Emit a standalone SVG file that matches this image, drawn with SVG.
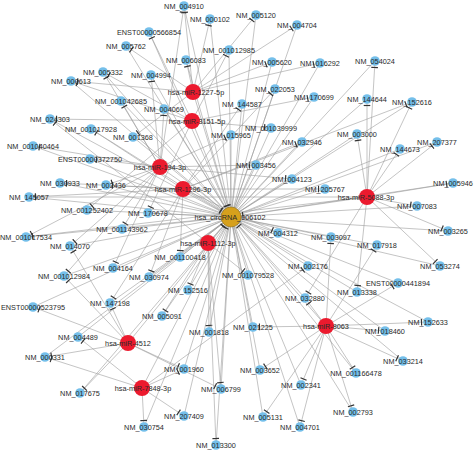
<svg xmlns="http://www.w3.org/2000/svg" width="474" height="450" viewBox="0 0 474 450">
<defs>
<style>
.e{stroke:#9c9c9c;stroke-width:0.6;fill:none}
.t{stroke:#9c9c9c;stroke-width:0.6;fill:none;marker-end:url(#tee)}
.tc{stroke:#9c9c9c;stroke-width:0.6;fill:none;marker-end:url(#tee2)}
.m circle{fill:#74bfea}
.r circle{fill:#ec1a2e}
.g circle{fill:#d6a01c;stroke:#8a6a10;stroke-width:0.6}
text{font-family:"Liberation Sans",Arial,sans-serif;font-size:7.3px;fill:#2a2a2a;text-anchor:middle}
</style>
<marker id="tee" viewBox="0 -4 10 8" refX="7.5" refY="0" markerWidth="10" markerHeight="8" markerUnits="userSpaceOnUse" orient="auto"><path d="M1,-3.3V3.3" stroke="#333" stroke-width="1.2"/></marker>
<marker id="tee2" viewBox="0 -4 15 8" refX="13" refY="0" markerWidth="15" markerHeight="8" markerUnits="userSpaceOnUse" orient="auto"><path d="M1,-3.3V3.3" stroke="#333" stroke-width="1.2"/></marker>
</defs>
<rect width="474" height="450" fill="#fff"/>
<g id="connectors">
<g id="circ-edges">
<line class="e" x1="231" y1="217" x2="184" y2="6"/>
<line class="e" x1="231" y1="217" x2="210" y2="19"/>
<line class="e" x1="231" y1="217" x2="256" y2="15"/>
<line class="e" x1="231" y1="217" x2="297" y2="25"/>
<line class="e" x1="231" y1="217" x2="149" y2="32"/>
<line class="e" x1="231" y1="217" x2="126" y2="46"/>
<line class="e" x1="231" y1="217" x2="229" y2="50"/>
<line class="e" x1="231" y1="217" x2="186" y2="60"/>
<line class="e" x1="231" y1="217" x2="272" y2="62"/>
<line class="e" x1="231" y1="217" x2="320" y2="63"/>
<line class="e" x1="231" y1="217" x2="375" y2="61"/>
<line class="e" x1="231" y1="217" x2="103" y2="72"/>
<line class="e" x1="231" y1="217" x2="71" y2="81"/>
<line class="e" x1="231" y1="217" x2="151" y2="75"/>
<line class="e" x1="231" y1="217" x2="275" y2="89"/>
<line class="e" x1="231" y1="217" x2="314" y2="97"/>
<line class="e" x1="231" y1="217" x2="367" y2="99"/>
<line class="e" x1="231" y1="217" x2="412" y2="102"/>
<line class="e" x1="231" y1="217" x2="121" y2="101"/>
<line class="e" x1="231" y1="217" x2="242" y2="104"/>
<line class="e" x1="231" y1="217" x2="164" y2="109"/>
<line class="e" x1="231" y1="217" x2="50" y2="119"/>
<line class="e" x1="231" y1="217" x2="91" y2="129"/>
<line class="e" x1="231" y1="217" x2="271" y2="128"/>
<line class="e" x1="231" y1="217" x2="231" y2="135"/>
<line class="e" x1="231" y1="217" x2="133" y2="137"/>
<line class="e" x1="231" y1="217" x2="357" y2="134"/>
<line class="e" x1="231" y1="217" x2="302" y2="142"/>
<line class="e" x1="231" y1="217" x2="437" y2="142"/>
<line class="e" x1="231" y1="217" x2="400" y2="149"/>
<line class="e" x1="231" y1="217" x2="33" y2="146"/>
<line class="e" x1="231" y1="217" x2="90" y2="159"/>
<line class="e" x1="231" y1="217" x2="256" y2="165"/>
<line class="e" x1="231" y1="217" x2="292" y2="179"/>
<line class="e" x1="231" y1="217" x2="60" y2="183"/>
<line class="e" x1="231" y1="217" x2="106" y2="185"/>
<line class="e" x1="231" y1="217" x2="453" y2="183"/>
<line class="e" x1="231" y1="217" x2="325" y2="189"/>
<line class="e" x1="231" y1="217" x2="29" y2="197"/>
<line class="e" x1="231" y1="217" x2="417" y2="206"/>
<line class="e" x1="231" y1="217" x2="87" y2="210"/>
<line class="e" x1="231" y1="217" x2="148" y2="213"/>
<line class="e" x1="231" y1="217" x2="122" y2="229"/>
<line class="e" x1="231" y1="217" x2="278" y2="233"/>
<line class="e" x1="231" y1="217" x2="448" y2="231"/>
<line class="e" x1="231" y1="217" x2="26" y2="237"/>
<line class="e" x1="231" y1="217" x2="331" y2="237"/>
<line class="e" x1="231" y1="217" x2="377" y2="245"/>
<line class="e" x1="231" y1="217" x2="70" y2="246"/>
<line class="e" x1="231" y1="217" x2="180" y2="257"/>
<line class="e" x1="231" y1="217" x2="308" y2="266"/>
<line class="e" x1="231" y1="217" x2="440" y2="266"/>
<line class="e" x1="231" y1="217" x2="113" y2="268"/>
<line class="e" x1="231" y1="217" x2="64" y2="276"/>
<line class="e" x1="231" y1="217" x2="149" y2="277"/>
<line class="e" x1="231" y1="217" x2="248" y2="275"/>
<line class="e" x1="231" y1="217" x2="398" y2="283"/>
<line class="e" x1="231" y1="217" x2="188" y2="290"/>
<line class="e" x1="231" y1="217" x2="357" y2="292"/>
<line class="e" x1="231" y1="217" x2="305" y2="298"/>
<line class="e" x1="231" y1="217" x2="110" y2="303"/>
<line class="e" x1="231" y1="217" x2="33" y2="307"/>
<line class="e" x1="231" y1="217" x2="162" y2="316"/>
<line class="e" x1="231" y1="217" x2="428" y2="322"/>
<line class="e" x1="231" y1="217" x2="253" y2="327"/>
<line class="e" x1="231" y1="217" x2="385" y2="331"/>
<line class="e" x1="231" y1="217" x2="209" y2="332"/>
<line class="e" x1="231" y1="217" x2="78" y2="337"/>
<line class="e" x1="231" y1="217" x2="45" y2="357"/>
<line class="e" x1="231" y1="217" x2="403" y2="361"/>
<line class="e" x1="231" y1="217" x2="184" y2="369"/>
<line class="e" x1="231" y1="217" x2="260" y2="370"/>
<line class="e" x1="231" y1="217" x2="356" y2="373"/>
<line class="e" x1="231" y1="217" x2="301" y2="385"/>
<line class="e" x1="231" y1="217" x2="221" y2="389"/>
<line class="e" x1="231" y1="217" x2="80" y2="393"/>
<line class="e" x1="231" y1="217" x2="353" y2="412"/>
<line class="e" x1="231" y1="217" x2="184" y2="416"/>
<line class="e" x1="231" y1="217" x2="263" y2="417"/>
<line class="e" x1="231" y1="217" x2="144" y2="427"/>
<line class="e" x1="231" y1="217" x2="300" y2="427"/>
<line class="e" x1="231" y1="217" x2="216" y2="445"/>
</g>
<g id="mirna-to-circ">
<line class="tc" x1="193" y1="92" x2="231" y2="217"/>
<line class="tc" x1="192" y1="121" x2="231" y2="217"/>
<line class="tc" x1="160" y1="167" x2="231" y2="217"/>
<line class="tc" x1="183" y1="189" x2="231" y2="217"/>
<line class="tc" x1="208" y1="243" x2="231" y2="217"/>
<line class="tc" x1="367" y1="197" x2="231" y2="217"/>
<line class="tc" x1="326" y1="326" x2="231" y2="217"/>
<line class="tc" x1="128" y1="343" x2="231" y2="217"/>
<line class="tc" x1="142" y1="388" x2="231" y2="217"/>
</g>
<g id="mirna-to-mrna">
<line class="t" x1="193" y1="92" x2="184" y2="6"/>
<line class="t" x1="193" y1="92" x2="210" y2="19"/>
<line class="t" x1="193" y1="92" x2="256" y2="15"/>
<line class="t" x1="193" y1="92" x2="297" y2="25"/>
<line class="t" x1="193" y1="92" x2="126" y2="46"/>
<line class="t" x1="193" y1="92" x2="186" y2="60"/>
<line class="t" x1="193" y1="92" x2="272" y2="62"/>
<line class="t" x1="193" y1="92" x2="320" y2="63"/>
<line class="t" x1="193" y1="92" x2="133" y2="137"/>
<line class="t" x1="193" y1="92" x2="71" y2="81"/>
<line class="t" x1="192" y1="121" x2="149" y2="32"/>
<line class="t" x1="192" y1="121" x2="229" y2="50"/>
<line class="t" x1="192" y1="121" x2="71" y2="81"/>
<line class="t" x1="192" y1="121" x2="314" y2="97"/>
<line class="t" x1="192" y1="121" x2="271" y2="128"/>
<line class="t" x1="192" y1="121" x2="87" y2="210"/>
<line class="t" x1="192" y1="121" x2="148" y2="213"/>
<line class="t" x1="192" y1="121" x2="103" y2="72"/>
<line class="t" x1="192" y1="121" x2="50" y2="119"/>
<line class="t" x1="160" y1="167" x2="184" y2="6"/>
<line class="t" x1="160" y1="167" x2="103" y2="72"/>
<line class="t" x1="160" y1="167" x2="151" y2="75"/>
<line class="t" x1="160" y1="167" x2="121" y2="101"/>
<line class="t" x1="160" y1="167" x2="164" y2="109"/>
<line class="t" x1="160" y1="167" x2="231" y2="135"/>
<line class="t" x1="160" y1="167" x2="33" y2="146"/>
<line class="t" x1="160" y1="167" x2="90" y2="159"/>
<line class="t" x1="160" y1="167" x2="256" y2="165"/>
<line class="t" x1="160" y1="167" x2="292" y2="179"/>
<line class="t" x1="160" y1="167" x2="106" y2="185"/>
<line class="t" x1="160" y1="167" x2="122" y2="229"/>
<line class="t" x1="160" y1="167" x2="26" y2="237"/>
<line class="t" x1="160" y1="167" x2="70" y2="246"/>
<line class="t" x1="160" y1="167" x2="113" y2="268"/>
<line class="t" x1="160" y1="167" x2="64" y2="276"/>
<line class="t" x1="183" y1="189" x2="275" y2="89"/>
<line class="t" x1="183" y1="189" x2="242" y2="104"/>
<line class="t" x1="183" y1="189" x2="91" y2="129"/>
<line class="t" x1="183" y1="189" x2="412" y2="102"/>
<line class="t" x1="183" y1="189" x2="302" y2="142"/>
<line class="t" x1="183" y1="189" x2="60" y2="183"/>
<line class="t" x1="183" y1="189" x2="106" y2="185"/>
<line class="t" x1="183" y1="189" x2="325" y2="189"/>
<line class="t" x1="183" y1="189" x2="29" y2="197"/>
<line class="t" x1="183" y1="189" x2="278" y2="233"/>
<line class="t" x1="183" y1="189" x2="180" y2="257"/>
<line class="t" x1="183" y1="189" x2="149" y2="277"/>
<line class="t" x1="183" y1="189" x2="110" y2="303"/>
<line class="t" x1="208" y1="243" x2="50" y2="119"/>
<line class="t" x1="208" y1="243" x2="248" y2="275"/>
<line class="t" x1="208" y1="243" x2="188" y2="290"/>
<line class="t" x1="208" y1="243" x2="162" y2="316"/>
<line class="t" x1="208" y1="243" x2="209" y2="332"/>
<line class="t" x1="208" y1="243" x2="216" y2="445"/>
<line class="t" x1="208" y1="243" x2="221" y2="389"/>
<line class="t" x1="367" y1="197" x2="375" y2="61"/>
<line class="t" x1="367" y1="197" x2="367" y2="99"/>
<line class="t" x1="367" y1="197" x2="412" y2="102"/>
<line class="t" x1="367" y1="197" x2="357" y2="134"/>
<line class="t" x1="367" y1="197" x2="437" y2="142"/>
<line class="t" x1="367" y1="197" x2="400" y2="149"/>
<line class="t" x1="367" y1="197" x2="453" y2="183"/>
<line class="t" x1="367" y1="197" x2="417" y2="206"/>
<line class="t" x1="367" y1="197" x2="448" y2="231"/>
<line class="t" x1="367" y1="197" x2="440" y2="266"/>
<line class="t" x1="367" y1="197" x2="357" y2="292"/>
<line class="t" x1="367" y1="197" x2="305" y2="298"/>
<line class="t" x1="367" y1="197" x2="26" y2="237"/>
<line class="t" x1="367" y1="197" x2="29" y2="197"/>
<line class="t" x1="326" y1="326" x2="331" y2="237"/>
<line class="t" x1="326" y1="326" x2="377" y2="245"/>
<line class="t" x1="326" y1="326" x2="398" y2="283"/>
<line class="t" x1="326" y1="326" x2="428" y2="322"/>
<line class="t" x1="326" y1="326" x2="253" y2="327"/>
<line class="t" x1="326" y1="326" x2="385" y2="331"/>
<line class="t" x1="326" y1="326" x2="403" y2="361"/>
<line class="t" x1="326" y1="326" x2="260" y2="370"/>
<line class="t" x1="326" y1="326" x2="356" y2="373"/>
<line class="t" x1="326" y1="326" x2="301" y2="385"/>
<line class="t" x1="326" y1="326" x2="353" y2="412"/>
<line class="t" x1="326" y1="326" x2="263" y2="417"/>
<line class="t" x1="326" y1="326" x2="300" y2="427"/>
<line class="t" x1="326" y1="326" x2="305" y2="298"/>
<line class="t" x1="128" y1="343" x2="70" y2="246"/>
<line class="t" x1="128" y1="343" x2="64" y2="276"/>
<line class="t" x1="128" y1="343" x2="33" y2="307"/>
<line class="t" x1="128" y1="343" x2="45" y2="357"/>
<line class="t" x1="128" y1="343" x2="184" y2="369"/>
<line class="t" x1="128" y1="343" x2="221" y2="389"/>
<line class="t" x1="128" y1="343" x2="80" y2="393"/>
<line class="t" x1="128" y1="343" x2="110" y2="303"/>
<line class="t" x1="142" y1="388" x2="308" y2="266"/>
<line class="t" x1="142" y1="388" x2="78" y2="337"/>
<line class="t" x1="142" y1="388" x2="45" y2="357"/>
<line class="t" x1="142" y1="388" x2="184" y2="416"/>
<line class="t" x1="142" y1="388" x2="144" y2="427"/>
<line class="t" x1="142" y1="388" x2="184" y2="369"/>
</g>
</g>
<g id="nodes">
<g id="n1" class="m"><circle cx="184" cy="6" r="4.8"/><text x="184" y="8.6">NM_004910</text></g>
<g id="n2" class="m"><circle cx="210" cy="19" r="4.8"/><text x="210" y="21.6">NM_000102</text></g>
<g id="n3" class="m"><circle cx="256" cy="15" r="4.8"/><text x="256" y="17.6">NM_005120</text></g>
<g id="n4" class="m"><circle cx="297" cy="25" r="4.8"/><text x="297" y="27.6">NM_004704</text></g>
<g id="n5" class="m"><circle cx="149" cy="32" r="4.8"/><text x="149" y="34.6">ENST00000566854</text></g>
<g id="n6" class="m"><circle cx="126" cy="46" r="4.8"/><text x="126" y="48.6">NM_005762</text></g>
<g id="n7" class="m"><circle cx="229" cy="50" r="4.8"/><text x="229" y="52.6">NM_001012985</text></g>
<g id="n8" class="m"><circle cx="186" cy="60" r="4.8"/><text x="186" y="62.6">NM_006083</text></g>
<g id="n9" class="m"><circle cx="272" cy="62" r="4.8"/><text x="272" y="64.6">NM_005620</text></g>
<g id="n10" class="m"><circle cx="320" cy="63" r="4.8"/><text x="320" y="65.6">NM_016292</text></g>
<g id="n11" class="m"><circle cx="375" cy="61" r="4.8"/><text x="375" y="63.6">NM_054024</text></g>
<g id="n12" class="m"><circle cx="103" cy="72" r="4.8"/><text x="103" y="74.6">NM_005332</text></g>
<g id="n13" class="m"><circle cx="71" cy="81" r="4.8"/><text x="71" y="83.6">NM_000613</text></g>
<g id="n14" class="m"><circle cx="151" cy="75" r="4.8"/><text x="151" y="77.6">NM_004994</text></g>
<g id="n15" class="m"><circle cx="275" cy="89" r="4.8"/><text x="275" y="91.6">NM_022053</text></g>
<g id="n16" class="m"><circle cx="314" cy="97" r="4.8"/><text x="314" y="99.6">NM_170699</text></g>
<g id="n17" class="m"><circle cx="367" cy="99" r="4.8"/><text x="367" y="101.6">NM_144644</text></g>
<g id="n18" class="m"><circle cx="412" cy="102" r="4.8"/><text x="412" y="104.6">NM_152616</text></g>
<g id="n19" class="m"><circle cx="121" cy="101" r="4.8"/><text x="121" y="103.6">NM_001042685</text></g>
<g id="n20" class="m"><circle cx="242" cy="104" r="4.8"/><text x="242" y="106.6">NM_144587</text></g>
<g id="n21" class="m"><circle cx="164" cy="109" r="4.8"/><text x="164" y="111.6">NM_004069</text></g>
<g id="n22" class="m"><circle cx="50" cy="119" r="4.8"/><text x="50" y="121.6">NM_024303</text></g>
<g id="n23" class="m"><circle cx="91" cy="129" r="4.8"/><text x="91" y="131.6">NM_001017928</text></g>
<g id="n24" class="m"><circle cx="271" cy="128" r="4.8"/><text x="271" y="130.6">NM_001039999</text></g>
<g id="n25" class="m"><circle cx="231" cy="135" r="4.8"/><text x="231" y="137.6">NM_015965</text></g>
<g id="n26" class="m"><circle cx="133" cy="137" r="4.8"/><text x="133" y="139.6">NM_001368</text></g>
<g id="n27" class="m"><circle cx="357" cy="134" r="4.8"/><text x="357" y="136.6">NM_003000</text></g>
<g id="n28" class="m"><circle cx="302" cy="142" r="4.8"/><text x="302" y="144.6">NM_032946</text></g>
<g id="n29" class="m"><circle cx="437" cy="142" r="4.8"/><text x="437" y="144.6">NM_207377</text></g>
<g id="n30" class="m"><circle cx="400" cy="149" r="4.8"/><text x="400" y="151.6">NM_144673</text></g>
<g id="n31" class="m"><circle cx="33" cy="146" r="4.8"/><text x="33" y="148.6">NM_001040464</text></g>
<g id="n32" class="m"><circle cx="90" cy="159" r="4.8"/><text x="90" y="161.6">ENST00000372750</text></g>
<g id="n33" class="m"><circle cx="256" cy="165" r="4.8"/><text x="256" y="167.6">NM_003456</text></g>
<g id="n34" class="m"><circle cx="292" cy="179" r="4.8"/><text x="292" y="181.6">NM_004123</text></g>
<g id="n35" class="m"><circle cx="60" cy="183" r="4.8"/><text x="60" y="185.6">NM_030933</text></g>
<g id="n36" class="m"><circle cx="106" cy="185" r="4.8"/><text x="106" y="187.6">NM_002436</text></g>
<g id="n37" class="m"><circle cx="453" cy="183" r="4.8"/><text x="453" y="185.6">NM_005946</text></g>
<g id="n38" class="m"><circle cx="325" cy="189" r="4.8"/><text x="325" y="191.6">NM_205767</text></g>
<g id="n39" class="m"><circle cx="29" cy="197" r="4.8"/><text x="29" y="199.6">NM_145057</text></g>
<g id="n40" class="m"><circle cx="417" cy="206" r="4.8"/><text x="417" y="208.6">NM_007083</text></g>
<g id="n41" class="m"><circle cx="87" cy="210" r="4.8"/><text x="87" y="212.6">NM_001252402</text></g>
<g id="n42" class="m"><circle cx="148" cy="213" r="4.8"/><text x="148" y="215.6">NM_170678</text></g>
<g id="n43" class="m"><circle cx="122" cy="229" r="4.8"/><text x="122" y="231.6">NM_001143962</text></g>
<g id="n44" class="m"><circle cx="278" cy="233" r="4.8"/><text x="278" y="235.6">NM_004312</text></g>
<g id="n45" class="m"><circle cx="448" cy="231" r="4.8"/><text x="448" y="233.6">NM_003265</text></g>
<g id="n46" class="m"><circle cx="26" cy="237" r="4.8"/><text x="26" y="239.6">NM_001017534</text></g>
<g id="n47" class="m"><circle cx="331" cy="237" r="4.8"/><text x="331" y="239.6">NM_003097</text></g>
<g id="n48" class="m"><circle cx="377" cy="245" r="4.8"/><text x="377" y="247.6">NM_017918</text></g>
<g id="n49" class="m"><circle cx="70" cy="246" r="4.8"/><text x="70" y="248.6">NM_014070</text></g>
<g id="n50" class="m"><circle cx="180" cy="257" r="4.8"/><text x="180" y="259.6">NM_001100418</text></g>
<g id="n51" class="m"><circle cx="308" cy="266" r="4.8"/><text x="308" y="268.6">NM_002176</text></g>
<g id="n52" class="m"><circle cx="440" cy="266" r="4.8"/><text x="440" y="268.6">NM_053274</text></g>
<g id="n53" class="m"><circle cx="113" cy="268" r="4.8"/><text x="113" y="270.6">NM_004164</text></g>
<g id="n54" class="m"><circle cx="64" cy="276" r="4.8"/><text x="64" y="278.6">NM_001012984</text></g>
<g id="n55" class="m"><circle cx="149" cy="277" r="4.8"/><text x="149" y="279.6">NM_030974</text></g>
<g id="n56" class="m"><circle cx="248" cy="275" r="4.8"/><text x="248" y="277.6">NM_001079528</text></g>
<g id="n57" class="m"><circle cx="398" cy="283" r="4.8"/><text x="398" y="285.6">ENST00000441894</text></g>
<g id="n58" class="m"><circle cx="188" cy="290" r="4.8"/><text x="188" y="292.6">NM_152516</text></g>
<g id="n59" class="m"><circle cx="357" cy="292" r="4.8"/><text x="357" y="294.6">NM_013338</text></g>
<g id="n60" class="m"><circle cx="305" cy="298" r="4.8"/><text x="305" y="300.6">NM_032880</text></g>
<g id="n61" class="m"><circle cx="110" cy="303" r="4.8"/><text x="110" y="305.6">NM_147198</text></g>
<g id="n62" class="m"><circle cx="33" cy="307" r="4.8"/><text x="33" y="309.6">ENST00000523795</text></g>
<g id="n63" class="m"><circle cx="162" cy="316" r="4.8"/><text x="162" y="318.6">NM_005091</text></g>
<g id="n64" class="m"><circle cx="428" cy="322" r="4.8"/><text x="428" y="324.6">NM_152633</text></g>
<g id="n65" class="m"><circle cx="253" cy="327" r="4.8"/><text x="253" y="329.6">NM_021225</text></g>
<g id="n66" class="m"><circle cx="385" cy="331" r="4.8"/><text x="385" y="333.6">NM_018460</text></g>
<g id="n67" class="m"><circle cx="209" cy="332" r="4.8"/><text x="209" y="334.6">NM_001818</text></g>
<g id="n68" class="m"><circle cx="78" cy="337" r="4.8"/><text x="78" y="339.6">NM_004489</text></g>
<g id="n69" class="m"><circle cx="45" cy="357" r="4.8"/><text x="45" y="359.6">NM_000331</text></g>
<g id="n70" class="m"><circle cx="403" cy="361" r="4.8"/><text x="403" y="363.6">NM_033214</text></g>
<g id="n71" class="m"><circle cx="184" cy="369" r="4.8"/><text x="184" y="371.6">NM_001960</text></g>
<g id="n72" class="m"><circle cx="260" cy="370" r="4.8"/><text x="260" y="372.6">NM_003652</text></g>
<g id="n73" class="m"><circle cx="356" cy="373" r="4.8"/><text x="356" y="375.6">NM_001166478</text></g>
<g id="n74" class="m"><circle cx="301" cy="385" r="4.8"/><text x="301" y="387.6">NM_002341</text></g>
<g id="n75" class="m"><circle cx="221" cy="389" r="4.8"/><text x="221" y="391.6">NM_006799</text></g>
<g id="n76" class="m"><circle cx="80" cy="393" r="4.8"/><text x="80" y="395.6">NM_017675</text></g>
<g id="n77" class="m"><circle cx="353" cy="412" r="4.8"/><text x="353" y="414.6">NM_002793</text></g>
<g id="n78" class="m"><circle cx="184" cy="416" r="4.8"/><text x="184" y="418.6">NM_207409</text></g>
<g id="n79" class="m"><circle cx="263" cy="417" r="4.8"/><text x="263" y="419.6">NM_005131</text></g>
<g id="n80" class="m"><circle cx="144" cy="427" r="4.8"/><text x="144" y="429.6">NM_030754</text></g>
<g id="n81" class="m"><circle cx="300" cy="427" r="4.8"/><text x="300" y="429.6">NM_004701</text></g>
<g id="n82" class="m"><circle cx="216" cy="445" r="4.8"/><text x="216" y="447.6">NM_013300</text></g>
<g id="mirA" class="r"><circle cx="193" cy="92" r="8"/><text x="196" y="94.6">hsa-miR-1227-5p</text></g>
<g id="mirB" class="r"><circle cx="192" cy="121" r="8"/><text x="197" y="123.6">hsa-miR-3151-5p</text></g>
<g id="mirC" class="r"><circle cx="160" cy="167" r="8"/><text x="160" y="169.6">hsa-miR-194-3p</text></g>
<g id="mirD" class="r"><circle cx="183" cy="189" r="8"/><text x="183" y="191.6">hsa-miR-1296-3p</text></g>
<g id="mirE" class="r"><circle cx="208" cy="243" r="8"/><text x="208" y="245.6">hsa-miR-1112-3p</text></g>
<g id="mirF" class="r"><circle cx="367" cy="197" r="8"/><text x="366" y="199.6">hsa-miR-5088-3p</text></g>
<g id="mirG" class="r"><circle cx="326" cy="326" r="8"/><text x="326" y="328.6">hsa-miR-8063</text></g>
<g id="mirH" class="r"><circle cx="128" cy="343" r="8"/><text x="128" y="345.6">hsa-miR-4512</text></g>
<g id="mirI" class="r"><circle cx="142" cy="388" r="8"/><text x="143" y="390.6">hsa-miR-7848-3p</text></g>
<g id="circ" class="g"><circle cx="231" cy="217" r="10"/><text x="230" y="219.6">hsa_circRNA_006102</text></g>
</g>
</svg>
